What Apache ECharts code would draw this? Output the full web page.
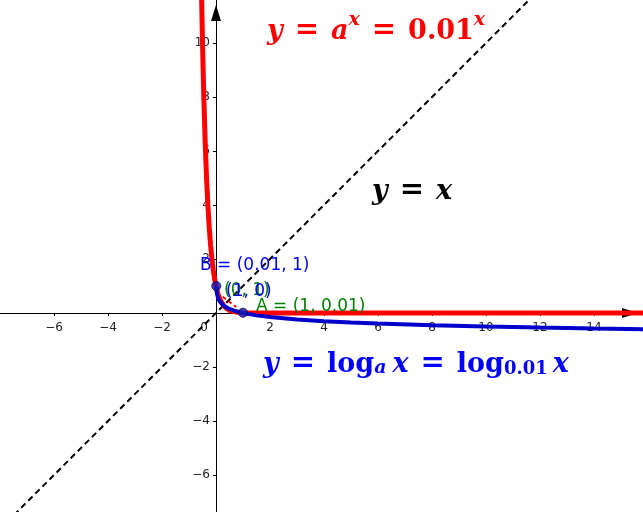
<!DOCTYPE html>
<html>
<head>
<meta charset="utf-8">
<script src="https://cdn.jsdelivr.net/npm/echarts@6/dist/echarts.min.js"></script>
<style>html,body{margin:0;padding:0;background:#fff;}#c{width:643px;height:512px;}</style>
</head>
<body>
<div id="c"></div>
<script>
// Axis ranges and tick labels
const xMin = -8, xMax = 15.815;
const yMin = -7.37, yMax = 11.593;
const xTickValues = [-6, -4, -2, 0, 2, 4, 6, 8, 10, 12, 14];
const yTickValues = [-6, -4, -2, 2, 4, 6, 8, 10];

// y = 0.01^x (red)
const expX = [-0.55, -0.5, -0.45, -0.4, -0.35, -0.3, -0.25, -0.2, -0.15, -0.1, -0.05, 0, 0.05, 0.1, 0.15, 0.2, 0.3, 0.4, 0.5, 0.6, 0.8, 1, 1.5, 2, 4, 8, 12, 16];
const expY = [12.59, 10, 7.94, 6.31, 5.01, 3.98, 3.16, 2.51, 2.0, 1.58, 1.26, 1, 0.79, 0.63, 0.50, 0.40, 0.25, 0.16, 0.10, 0.063, 0.025, 0.01, 0.001, 0.0001, 0, 0, 0, 0];

// y = log_0.01 x (blue)
const logX = [0.01, 0.02, 0.03, 0.05, 0.07, 0.1, 0.15, 0.2, 0.3, 0.4, 0.5, 0.7, 1, 1.5, 2, 3, 4, 5, 6, 8, 10, 12, 14, 16];
const logY = [1, 0.849, 0.761, 0.651, 0.577, 0.5, 0.412, 0.349, 0.261, 0.199, 0.151, 0.077, 0, -0.088, -0.151, -0.239, -0.301, -0.349, -0.389, -0.452, -0.5, -0.54, -0.573, -0.602];

// y = x (dashed)
const diagX = [-8, 12];
const diagY = [-8, 12];

// small red dashed segment near origin
const segX = [0.25, 0.75];
const segY = [0.6, 0.22];

// points
const pointNames = ['B', 'A'];
const pointX = [0.01, 1];
const pointY = [1, 0.01];

const zip = (a, b) => a.map((v, i) => [v, b[i]]);

const chart = echarts.init(document.getElementById('c'), null, {renderer: 'canvas'});
const serif = '"DejaVu Serif", "Liberation Serif", serif';
const sans = '"DejaVu Sans", sans-serif';

function mathRich(color) {
  const base = {fontFamily: serif, fontWeight: 'bold', fill: color, lineHeight: 34, verticalAlign: 'bottom'};
  return {
    i: Object.assign({}, base, {fontStyle: 'italic', fontSize: 27}),
    r: Object.assign({}, base, {fontSize: 27}),
    eq: Object.assign({}, base, {fontSize: 29, padding: [0, 12, 0, 12]}),
    sup: {fontFamily: serif, fontStyle: 'italic', fontWeight: 'bold', fontSize: 19, fill: color, lineHeight: 18, verticalAlign: 'top'},
    sub: {fontFamily: serif, fontWeight: 'bold', fontSize: 18, fill: color, lineHeight: 17, verticalAlign: 'bottom', padding: [0, 5, 0, 0]},
    subi: {fontFamily: serif, fontStyle: 'italic', fontWeight: 'bold', fontSize: 19, fill: color, lineHeight: 18, verticalAlign: 'bottom', padding: [0, 6, 0, 0]}
  };
}

const labelFmt = v => (v < 0 ? '\u2212' + Math.abs(v) : String(v));

const option = {
  backgroundColor: '#ffffff',
  animation: false,
  grid: {left: 0, right: 0, top: 0, bottom: 0, containLabel: false, outerBoundsMode: 'none'},
  xAxis: {
    type: 'value', min: xMin, max: xMax, position: 'bottom',
    splitLine: {show: false},
    axisLine: {onZero: false, lineStyle: {color: '#000', width: 1}, symbol: ['none', 'triangle'], symbolSize: [10, 16], symbolOffset: [0, -13]},
    axisTick: {show: true, length: 3, customValues: xTickValues, lineStyle: {color: '#000'}},
    axisLabel: {
      customValues: xTickValues, margin: 9, fontSize: 12, color: '#222', fontFamily: sans,
      formatter: v => v === 0 ? '{z|0}' : labelFmt(v),
      rich: {z: {fontSize: 12, color: '#222', fontFamily: sans, padding: [0, 24, 0, 0]}}
    }
  },
  yAxis: {
    type: 'value', min: yMin, max: yMax, position: 'left',
    splitLine: {show: false},
    axisLine: {onZero: false, lineStyle: {color: '#000', width: 1}, symbol: ['none', 'triangle'], symbolSize: [10, 16], symbolOffset: [0, -13]},
    axisTick: {show: true, length: 3, customValues: yTickValues, lineStyle: {color: '#000'}},
    axisLabel: {customValues: yTickValues, margin: 6, fontSize: 12, color: '#222', fontFamily: sans, formatter: labelFmt}
  },
  series: [
    {type: 'line', name: 'y=x', data: zip(diagX, diagY), showSymbol: false, symbol: 'none',
      lineStyle: {color: '#000', width: 2, type: [6, 4]}, z: 2},
    {type: 'line', name: 'exp', data: zip(expX, expY), showSymbol: false, symbol: 'none',
      lineStyle: {color: '#ff0000', width: 5}, z: 3},
    {type: 'line', name: 'seg', data: zip(segX, segY), showSymbol: false, symbol: 'none',
      lineStyle: {color: '#ff0000', width: 2, type: [4, 3]}, z: 5},
    {type: 'line', name: 'log', data: zip(logX, logY), showSymbol: false, symbol: 'none',
      lineStyle: {color: '#0000cc', width: 4}, z: 4},
    {type: 'scatter', name: 'points', data: pointNames.map((n, i) => ({name: n, value: [pointX[i], pointY[i]]})),
      symbolSize: 9, itemStyle: {color: '#1a1ab0', borderColor: '#000066', borderWidth: 1}, z: 6}
  ],
  graphic: [
    {type: 'text', x: 267, y: 28, z: 10, style: {
      text: '{i|y}{eq|=}{i|a}{sup|x}{eq|=}{r|0.01}{sup|x}', align: 'left', verticalAlign: 'middle', rich: mathRich('#ff0000')}},
    {type: 'text', x: 372, y: 188, z: 10, style: {
      text: '{i|y}{eq|=}{i|x}', align: 'left', verticalAlign: 'middle', rich: mathRich('#000000')}},
    {type: 'text', x: 263, y: 361, z: 10, style: {
      text: '{i|y}{eq|=}{r|log}{subi|a}{i|x}{eq|=}{r|log}{sub|0.01}{i|x}', align: 'left', verticalAlign: 'middle', rich: mathRich('#0000ff')}},
    {type: 'text', x: 200, y: 266, z: 10, style: {text: 'B = (0.01, 1)', fill: '#0000ff', font: '17px ' + sans, align: 'left', verticalAlign: 'middle'}},
    {type: 'text', x: 224, y: 291, z: 10, style: {text: '(0, 1)', fill: '#007f00', font: '17px ' + sans, align: 'left', verticalAlign: 'middle'}},
    {type: 'text', x: 226, y: 292, z: 10, style: {text: '(1, 0)', fill: '#0000ff', font: '17px ' + sans, align: 'left', verticalAlign: 'middle'}},
    {type: 'text', x: 256, y: 307, z: 10, style: {text: 'A = (1, 0.01)', fill: '#007f00', font: '17px ' + sans, align: 'left', verticalAlign: 'middle'}}
  ]
};
chart.setOption(option);

// Move the axes onto the origin (axis lines and labels together)
const origin = chart.convertToPixel({gridIndex: 0}, [0, 0]);
const corner = chart.convertToPixel({gridIndex: 0}, [xMin, yMin]);
chart.setOption({
  xAxis: {offset: origin[1] - corner[1]},
  yAxis: {offset: -(origin[0] - corner[0])}
});
</script>
</body>
</html>
